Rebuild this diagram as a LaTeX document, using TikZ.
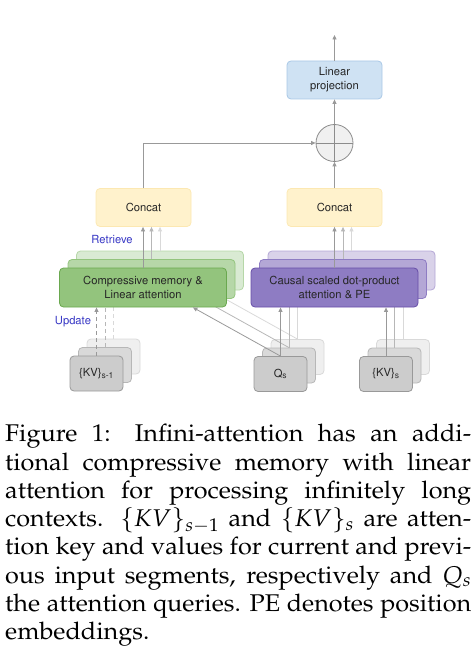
\documentclass[tikz,border=0pt]{standalone}
\usepackage[T1]{fontenc}
\usepackage{mathpazo}
\usepackage{helvet}
\usepackage{graphicx}
\usetikzlibrary{arrows.meta,calc}

\definecolor{projfill}{HTML}{CFE2F3}
\definecolor{projline}{HTML}{A9C8E6}
\definecolor{catfill}{HTML}{FFF2CC}
\definecolor{catline}{HTML}{FCE8B2}
\definecolor{g1}{HTML}{93C47D}\definecolor{gl1}{HTML}{6AA84F}
\definecolor{g2}{HTML}{B6D7A8}\definecolor{gl2}{HTML}{93C47D}
\definecolor{g3}{HTML}{D9EAD3}\definecolor{gl3}{HTML}{B6D7A8}
\definecolor{p1}{HTML}{8E7CC3}\definecolor{pl1}{HTML}{674EA7}
\definecolor{p2}{HTML}{B4A7D6}\definecolor{pl2}{HTML}{8E7CC3}
\definecolor{p3}{HTML}{D9D2E9}\definecolor{pl3}{HTML}{B4A7D6}
\definecolor{k1}{HTML}{CCCCCC}\definecolor{kl1}{HTML}{999999}
\definecolor{k2}{HTML}{D9D9D9}\definecolor{kl2}{HTML}{B7B7B7}
\definecolor{k3}{HTML}{EFEFEF}\definecolor{kl3}{HTML}{D9D9D9}
\definecolor{a1}{HTML}{999999}
\definecolor{a2}{HTML}{B7B7B7}
\definecolor{a3}{HTML}{D9D9D9}
\definecolor{labelblue}{HTML}{3636C4}

\tikzset{
  box/.style={rounded corners=4pt, line width=0.8pt, align=center,
    font=\sffamily\fontsize{11.2}{14}\selectfont, text=black!85, inner sep=0pt},
  wide/.style={box, minimum width=167pt, minimum height=39pt},
  small/.style={box, minimum width=95pt, minimum height=38pt},
  inbox/.style={box, minimum width=53pt, minimum height=35pt},
  link/.style={line width=0.8pt, -{Triangle[length=4.5pt,width=4pt]}},
  tag/.style={font=\sffamily\fontsize{11.2}{14}\selectfont, text=labelblue, inner sep=0pt}
}

\begin{document}
\begin{tikzpicture}[x=1pt,y=-1pt]
  \useasboundingbox (0,0) rectangle (472,652);

  \newcommand\X{8.5}

  % stacked layers, back to front
  \foreach \i/\c in {2/3,1/2,0/1}{
    \node[wide, fill=g\c, draw=gl\c] (mem\i) at (143+\X*\i, 287.5-\X*\i)
      {\ifnum\i=0 Compressive memory \&\\Linear attention\fi};
    \node[wide, fill=p\c, draw=pl\c] (att\i) at (334.5+\X*\i, 287.5-\X*\i)
      {\ifnum\i=0 Causal scaled dot-product\\attention \& PE\fi};
    \node[inbox, fill=k\c, draw=kl\c] (kvp\i) at (96.5+\X*\i, 373.5-\X*\i)
      {\ifnum\i=0 \{KV\}\textsubscript{s-1}\fi};
    \node[inbox, fill=k\c, draw=kl\c] (q\i) at (280.5+\X*\i, 374-\X*\i)
      {\ifnum\i=0 Q\textsubscript{s}\fi};
    \node[inbox, fill=k\c, draw=kl\c] (kvc\i) at (386+\X*\i, 374-\X*\i)
      {\ifnum\i=0 \{KV\}\textsubscript{s}\fi};

    \draw[link, a\c, dashed, dash pattern=on 4pt off 3pt] (kvp\i.north) -- (kvp\i.north |- mem\i.south);
    \draw[link, a\c] (q\i.north) -- ([xshift=-34pt]mem\i.south east);
    \draw[link, a\c] (q\i.north) -- (q\i.north |- att\i.south);
    \draw[link, a\c] (kvc\i.north) -- (kvc\i.north |- att\i.south);
  }

  \node[small, fill=catfill, draw=catline] (catL) at (143.5, 207.5) {Concat};
  \node[small, fill=catfill, draw=catline] (catR) at (334.5, 207.5) {Concat};
  \foreach \i/\c in {2/3,1/2,0/1}{
    \draw[link, a\c] (mem\i.north) -- (mem\i.north |- catL.south);
    \draw[link, a\c] (att\i.north) -- (att\i.north |- catR.south);
  }

  \node[circle, minimum size=37pt, inner sep=0pt, fill=black!6, draw=black!45, line width=0.8pt,
    path picture={\draw[black!45, line width=0.8pt]
      (path picture bounding box.north) -- (path picture bounding box.south)
      (path picture bounding box.west) -- (path picture bounding box.east);}]
    (sum) at (334.5, 143) {};
  \node[small, fill=projfill, draw=projline] (proj) at (334.5, 80) {Linear\\projection};
  \coordinate (out) at (334.5, 35);

  \draw[link, a1] (catL.north) |- (sum.west);
  \draw[link, a1] (catR.north) -- (sum.south);
  \draw[link, a1] (sum.north) -- (proj.south);
  \draw[link, a1] (proj.north) -- (out);

  \node[tag] (retr) at (112, 240) {Retrieve};
  \node[tag] (upd) at (73, 322) {Update};

  % caption
  \node[anchor=base west, inner sep=0pt] (cap) at (5, 441.7)
    {\scalebox{1}[0.96]{\parbox[t]{466pt}{\fontsize{25.2}{29.5}\selectfont
     \tolerance=9999\emergencystretch=20pt
     Figure 1: Infini-attention has an addi-\linebreak tional compressive memory with linear\linebreak
     attention for processing infinitely long\linebreak contexts. $\{KV\}_{s-1}$ and
     $\{KV\}_s$ are atten-\linebreak tion key and values for current and previ-\linebreak
     ous input segments, respectively and $Q_s$\linebreak the attention queries. PE denotes position\linebreak
     embeddings.}}};
\end{tikzpicture}
\end{document}
